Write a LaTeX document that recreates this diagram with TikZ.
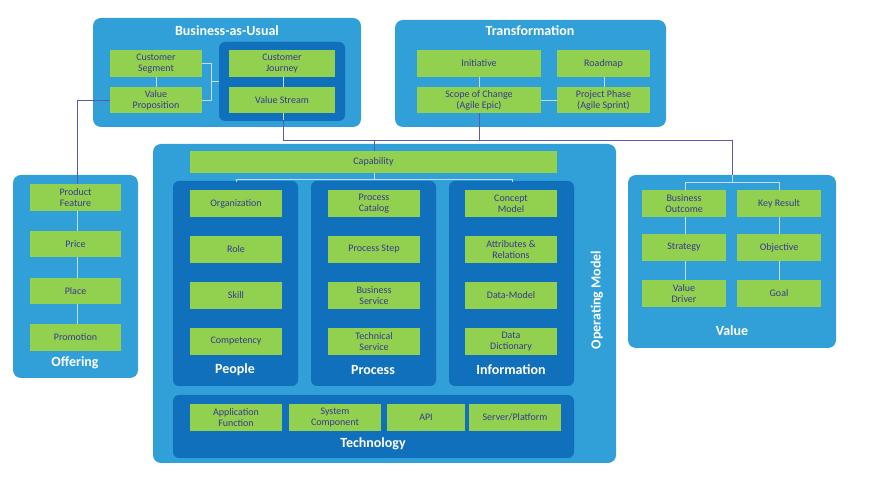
\documentclass[tikz,border=0pt]{standalone}
\usepackage{fontspec}
\setmainfont{Carlito}
\begin{document}
\begin{tikzpicture}[x=1pt,y=-1pt,
  lb/.style={fill=lblue,rounded corners=8pt},
  db/.style={fill=dblue,rounded corners=6pt},
  it/.style={fill=igreen,text=itext,font=\fontsize{10}{11}\selectfont,align=center,inner sep=0pt},
  tt/.style={text=white,font=\bfseries\fontsize{14}{16}\selectfont},
  ln/.style={draw=lline,line width=0.9pt},
  pl/.style={draw=pline,line width=0.9pt}]
\definecolor{lblue}{HTML}{319FD8}
\definecolor{dblue}{HTML}{1170BB}
\definecolor{igreen}{HTML}{92D050}
\definecolor{itext}{HTML}{3A3A8C}
\definecolor{lline}{HTML}{C5DDF2}
\definecolor{pline}{HTML}{5A5AAA}
\useasboundingbox (0,0) rectangle (887,494);
\newcommand\itm[6]{\node[it,minimum width=#4-#2,minimum height=#5-#3] (#1) at ({(#2+#4)/2},{(#3+#5)/2}) {#6};}
% connectors behind (purple)
\coordinate (vsb) at (283,113);
\coordinate (j1) at (283,140);
\coordinate (j2) at (732,140);
\coordinate (j3) at (732,175);
\coordinate (ot) at (77,100);
% Boxes
\fill[lb] (93,18) rectangle (361,127);
\fill[db] (219,42) rectangle (345,121);
\fill[lb] (395,20) rectangle (666,127);
\fill[lb] (628,175) rectangle (836,348);
\fill[lb] (13,175) rectangle (138,378);
\fill[lb] (153,144) rectangle (616,463);
\fill[db] (173,181) rectangle (298,386);
\fill[db] (311,181) rectangle (436,386);
\fill[db] (449,181) rectangle (574,386);
\fill[db] (173,395) rectangle (574,458);
% titles
\node[tt] (tbau) at (227,31) {Business-as-Usual};
\node[tt] (ttr) at (530,31) {Transformation};
\node[tt] (tval) at (732,331) {Value};
\node[tt] (toff) at (75,363) {Offering};
\node[tt] (tpe) at (235,370) {People};
\node[tt] (tpr) at (373,370) {Process};
\node[tt] (tin) at (511,370) {Information};
\node[tt] (tte) at (373,444) {Technology};
\node[tt,rotate=90] (tom) at (597,300) {Operating Model};
% purple connectors
\draw[pl] (283,120) -- (j1) -- (j2) -- (j3);
\draw[pl] (479,113) -- (479,140);
\draw[pl] (374,140) -- (374,151);
\draw[pl] (110,100) -- (ot) -- (77,184);
% light connectors
\draw[ln] (156,77) -- (156,87);
\draw[ln] (202,63) -- (211,63) -- (211,100) -- (202,100);
\draw[ln] (211,81) -- (219,81);
\draw[ln] (283,77) -- (283,120);
\draw[ln] (479,77) -- (479,87);
\draw[ln] (541,100) -- (557,100);
\draw[ln] (604,77) -- (604,87);
\draw[ln] (732,175) -- (732,182);
\draw[ln] (685,190) -- (685,182) -- (779,182) -- (779,190);
\draw[ln] (685,217) -- (685,280);
\draw[ln] (779,217) -- (779,280);
\draw[ln] (77,211) -- (77,324);
\draw[ln] (374,173) -- (374,179);
\draw[ln] (236,182) -- (236,179) -- (512,179) -- (512,182);
% items
\itm{cs}{110}{50}{202}{77}{Customer\\Segment}
\itm{vp}{110}{87}{202}{113}{Value\\Proposition}
\itm{cj}{229}{50}{335}{77}{Customer\\Journey}
\itm{vs}{229}{87}{335}{113}{Value Stream}
\itm{ini}{417}{50}{541}{77}{Initiative}
\itm{rm}{557}{50}{650}{77}{Roadmap}
\itm{sc}{417}{87}{541}{113}{Scope of Change\\(Agile Epic)}
\itm{pp}{557}{87}{650}{113}{Project Phase\\(Agile Sprint)}
\itm{bo}{642}{190}{726}{217}{Business\\Outcome}
\itm{kr}{737}{190}{821}{217}{Key Result}
\itm{st}{642}{234}{726}{261}{Strategy}
\itm{ob}{737}{234}{821}{261}{Objective}
\itm{vd}{642}{280}{726}{307}{Value\\Driver}
\itm{go}{737}{280}{821}{307}{Goal}
\itm{pf}{30}{184}{121}{211}{Product\\Feature}
\itm{pr}{30}{231}{121}{257}{Price}
\itm{pl}{30}{278}{121}{304}{Place}
\itm{pm}{30}{324}{121}{351}{Promotion}
\itm{cap}{190}{151}{557}{173}{Capability}
\itm{org}{190}{190}{282}{217}{Organization}
\itm{role}{190}{236}{282}{263}{Role}
\itm{sk}{190}{282}{282}{309}{Skill}
\itm{co}{190}{328}{282}{355}{Competency}
\itm{pc}{328}{190}{420}{217}{Process\\Catalog}
\itm{ps}{328}{236}{420}{263}{Process Step}
\itm{bs}{328}{282}{420}{309}{Business\\Service}
\itm{ts}{328}{328}{420}{355}{Technical\\Service}
\itm{cm}{465}{190}{557}{217}{Concept\\Model}
\itm{ar}{465}{236}{557}{263}{Attributes \&\\Relations}
\itm{dm}{465}{282}{557}{309}{Data-Model}
\itm{dd}{465}{328}{557}{355}{Data\\Dictionary}
\itm{af}{190}{404}{282}{431}{Application\\Function}
\itm{sy}{289}{404}{381}{431}{System\\Component}
\itm{api}{387}{404}{465}{431}{API}
\itm{sp}{469}{404}{561}{431}{Server/Platform}
\end{tikzpicture}
\end{document}
